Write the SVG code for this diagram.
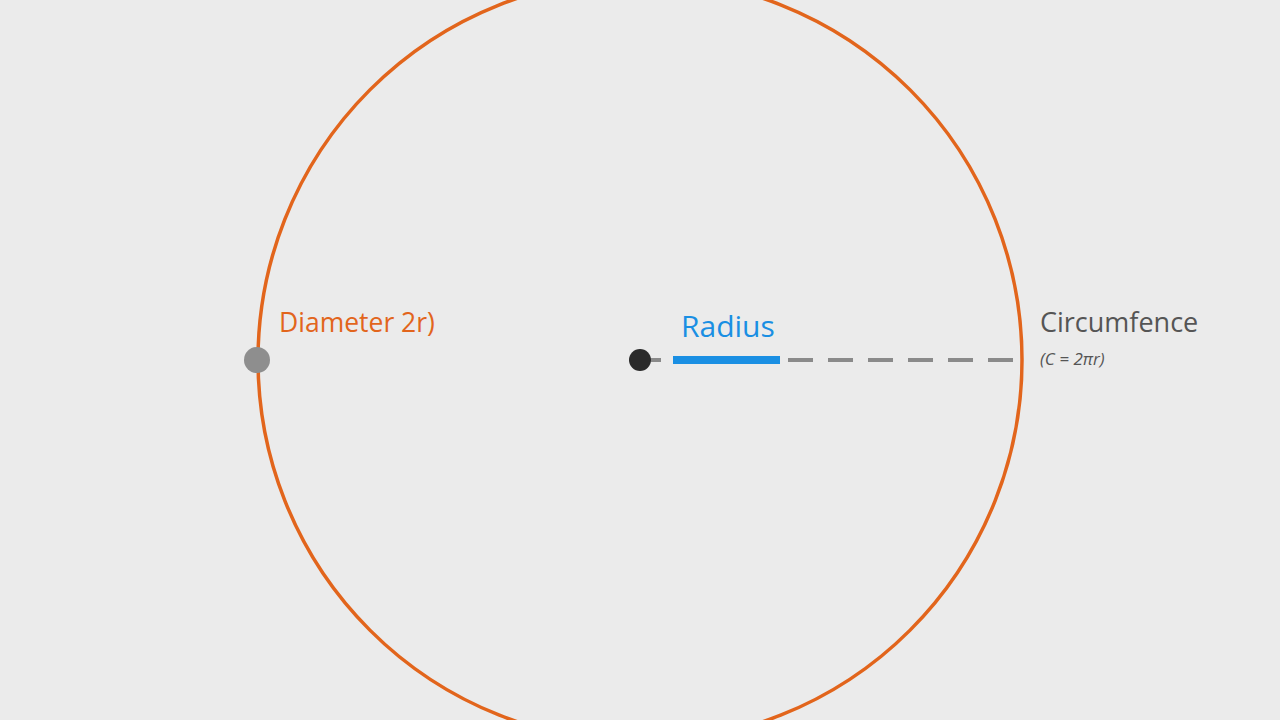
<svg xmlns="http://www.w3.org/2000/svg" width="1280" height="720" viewBox="0 0 1280 720">
  <style>
    .lbl { font-family: "Open Sans", "Liberation Sans", Arial, sans-serif; }
  </style>
  <rect x="0" y="0" width="1280" height="720" fill="#ebebeb"/>
  <g id="circle">
    <circle cx="640" cy="360" r="382" fill="none" stroke="#e2651c" stroke-width="3.5"/>
  </g>
  <g id="connectors">
    <line x1="651" y1="360" x2="661" y2="360" stroke="#8a8a8a" stroke-width="4"/>
    <line x1="673" y1="360" x2="780" y2="360" stroke="#1a8fe3" stroke-width="8"/>
    <line x1="788" y1="360" x2="1014" y2="360" stroke="#8a8a8a" stroke-width="4" stroke-dasharray="25 15"/>
  </g>
  <g id="center">
    <circle cx="640" cy="360" r="11" fill="#2a2a2a"/>
  </g>
  <g id="edge-point">
    <circle cx="257" cy="360" r="13" fill="#8e8e8e"/>
  </g>
  <g id="diameter-label">
    <text class="lbl" x="279" y="332" font-size="26.5" fill="#e2651c">Diameter 2r)</text>
  </g>
  <g id="radius-label">
    <text class="lbl" x="681" y="337" font-size="30" fill="#1a8fe3">Radius</text>
  </g>
  <g id="circumference-label">
    <text class="lbl" x="1040" y="332" font-size="27" fill="#555555">Circumfence</text>
    <text class="lbl" x="1040" y="365" font-size="17" font-style="italic" fill="#555555">(C = 2πr)</text>
  </g>
</svg>
